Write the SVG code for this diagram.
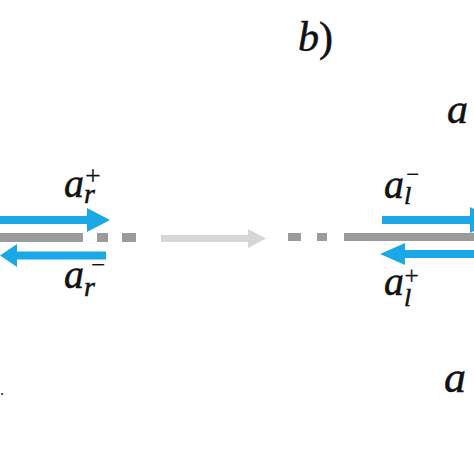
<svg xmlns="http://www.w3.org/2000/svg" width="474" height="474" viewBox="0 0 474 474">
<style>
.m{font-family:"Liberation Serif","Times New Roman",serif;font-style:italic;fill:#111;stroke:#111;stroke-width:0.5}
.o{font-family:"Liberation Serif","Times New Roman",serif;fill:#111}
.up{font-style:normal;stroke-width:0.2}
.blue{fill:#1aa9e6}
.dk{fill:#9b9b9b}
.lt{fill:#d6d6d6}
</style>
<rect width="474" height="474" fill="#ffffff"/>
<g id="connectors">
  <rect class="dk" x="0" y="233" width="83" height="9"/>
  <rect class="dk" x="97" y="233" width="11" height="9"/>
  <rect class="dk" x="122" y="233" width="14" height="9"/>
  <path class="lt" d="M161,235 H248 V229 L266,238.5 L248,248 V242 H161 Z"/>
  <rect class="dk" x="288" y="233" width="13" height="8"/>
  <rect class="dk" x="317" y="233" width="10" height="8"/>
  <rect class="dk" x="344" y="233" width="130" height="8"/>
  <path class="blue" d="M0,216 H87 V208 L110,220 L87,232 V224 H0 Z"/>
  <path class="blue" d="M106,251.5 H17 V244 L0,255.5 L17,267 V259.5 H106 Z"/>
  <path class="blue" d="M382,216 H470 V207 L496,220 L470,233 V224 H382 Z"/>
  <path class="blue" d="M474,250 H405 V243 L380,254 L405,265 V258 H474 Z"/>
</g>
<g id="label-b"><text class="m" x="298" y="51" font-size="42">b<tspan font-style="normal">)</tspan></text></g>
<g id="label-ar-plus">
  <text class="m" x="64" y="197" font-size="40">a<tspan font-size="28" dy="6">r</tspan><tspan class="up" font-size="28" dx="-10" dy="-18">+</tspan></text>
</g>
<g id="label-ar-minus">
  <text class="m" x="64" y="288" font-size="40">a<tspan font-size="28" dy="8">r</tspan><tspan class="up" font-size="25" dx="-4" dy="-23">−</tspan></text>
</g>
<g id="label-al-minus">
  <text class="m" x="384" y="198" font-size="40">a<tspan font-size="26" dy="6">l</tspan><tspan class="up" font-size="23" dx="-5" dy="-22">−</tspan></text>
</g>
<g id="label-al-plus">
  <text class="m" x="384" y="295" font-size="40">a<tspan font-size="26" dy="11">l</tspan><tspan class="up" font-size="26" dx="-7" dy="-22">+</tspan></text>
</g>
<g id="label-a-top"><text class="m" x="447" y="123" font-size="42">a</text></g>
<g id="label-a-bottom"><text class="m" x="444" y="392" font-size="44">a</text></g>
<g id="label-dot"><text class="o" x="0" y="395" font-size="16">.</text></g>
</svg>
